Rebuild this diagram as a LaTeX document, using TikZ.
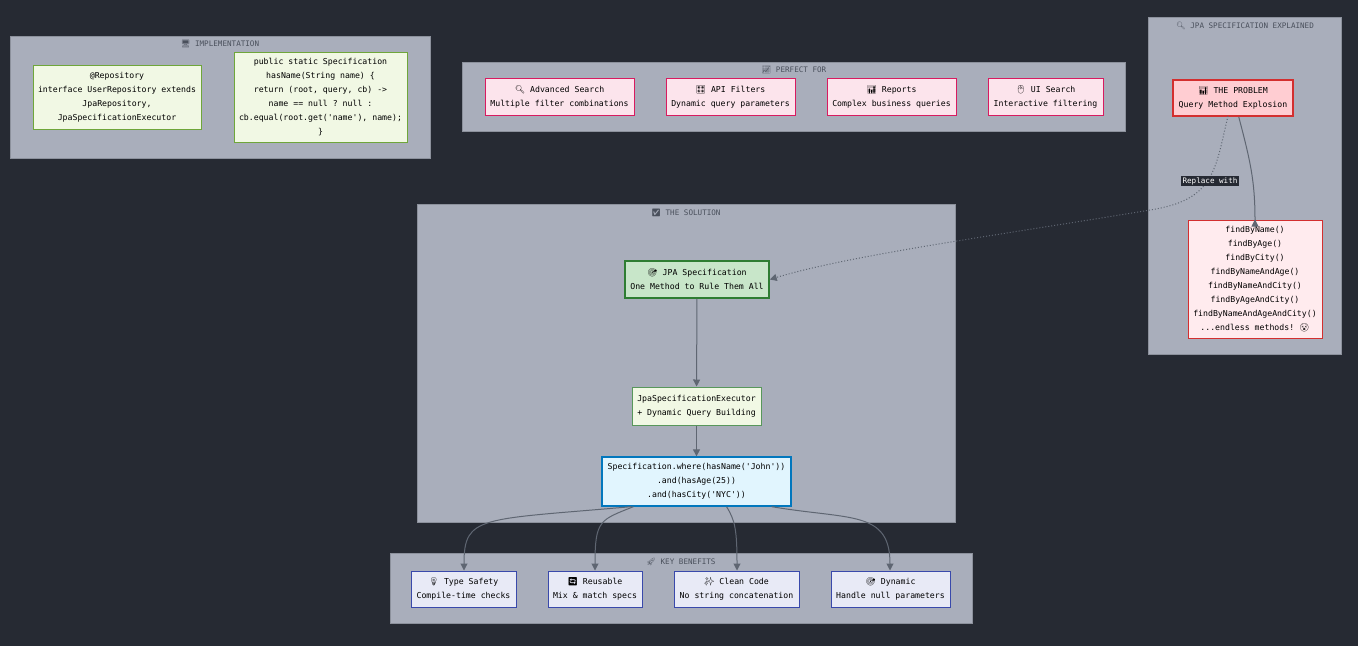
\documentclass[tikz,border=0pt]{standalone}
\usepackage{fontspec}
\setmonofont{DejaVu Sans Mono}
\newfontfamily\emo{Noto Emoji}
\usetikzlibrary{arrows.meta}
\definecolor{bg}{HTML}{262A33}
\definecolor{cl}{HTML}{A9AEBB}
\definecolor{clb}{HTML}{8C919C}
\definecolor{ttl}{HTML}{4A505C}
\definecolor{edge}{HTML}{5F6672}
\definecolor{gfill}{HTML}{F1F8E4}
\definecolor{gdraw}{HTML}{6FA63A}
\definecolor{pfill}{HTML}{FCE4EC}
\definecolor{pdraw}{HTML}{D81B60}
\definecolor{bfill}{HTML}{E8EAF6}
\definecolor{bdraw}{HTML}{3949AB}
\definecolor{sfill}{HTML}{C8E6C9}
\definecolor{sdraw}{HTML}{2E7D32}
\definecolor{wfill}{HTML}{E1F5FE}
\definecolor{wdraw}{HTML}{0277BD}
\definecolor{rfill}{HTML}{FFCDD2}
\definecolor{rdraw}{HTML}{D32F2F}
\definecolor{mfill}{HTML}{FFEBEE}
\tikzset{
 clus/.style={draw=clb,fill=cl,line width=0.8pt},
 ctitle/.style={font=\ttfamily\fontsize{7.6}{8}\selectfont,text=ttl,anchor=north},
 box/.style={draw,line width=1pt,align=center,font=\ttfamily\fontsize{8.2}{14}\selectfont,inner sep=0pt,text=black},
 gbox/.style={box,fill=gfill,draw=gdraw},
 pbox/.style={box,fill=pfill,draw=pdraw},
 bbox/.style={box,fill=bfill,draw=bdraw},
 arr/.style={draw=edge,line width=1pt,-{Triangle[length=7pt,width=7pt]}},
}
\newcommand{\bx}[6]{\node[#1,minimum width=#4-#2,minimum height=#5-#3] (#6) at ({(#2+#4)/2},{(#3+#5)/2})}
\begin{document}
\begin{tikzpicture}[x=1pt,y=-1pt]
\fill[bg] (0,0) rectangle (1358,646);
\useasboundingbox (0,0) rectangle (1358,646);
% clusters
\draw[clus] (10,36) rectangle (430,158);
\node[ctitle] at (220,37) {{\emo 🖥}\ IMPLEMENTATION};
\draw[clus] (462,62) rectangle (1125,131);
\node[ctitle] at (794,63) {{\emo 📈}\ PERFECT FOR};
\draw[clus] (1148,17) rectangle (1341,354);
\node[ctitle] at (1245,19) {{\emo 🔍}\ JPA SPECIFICATION EXPLAINED};
\draw[clus] (417,204) rectangle (955,522);
\node[ctitle] at (686,206) {{\emo ✅}\ THE SOLUTION};
\draw[clus] (390,553) rectangle (972,623);
\node[ctitle] at (681,555) {{\emo 🚀}\ KEY BENEFITS};
% implementation
\bx{gbox}{33}{65}{201}{129}{repo} {@Repository\\interface UserRepository extends\\JpaRepository,\\JpaSpecificationExecutor};
\bx{gbox}{234}{52}{407}{142}{code} {public static Specification\\hasName(String name) \{\\return (root, query, cb) ->\\name == null ? null :\\cb.equal(root.get('name'), name);\\\}};
% perfect for
\bx{pbox}{485}{78}{634}{115}{p1} {{\emo 🔍}\ Advanced Search\\Multiple filter combinations};
\bx{pbox}{666}{78}{795}{115}{p2} {{\emo 🎛}\ API Filters\\Dynamic query parameters};
\bx{pbox}{827}{78}{956}{115}{p3} {{\emo 📊}\ Reports\\Complex business queries};
\bx{pbox}{988}{78}{1103}{115}{p4} {{\emo 🖱}\ UI Search\\Interactive filtering};
% problem
\bx{box,fill=rfill,draw=rdraw,line width=1.4pt}{1173}{80}{1293}{116}{prob} {{\emo 📊}\ THE PROBLEM\\Query Method Explosion};
\bx{box,fill=mfill,draw=rdraw}{1188}{220}{1322}{338}{meth} {findByName()\\findByAge()\\findByCity()\\findByNameAndAge()\\findByNameAndCity()\\findByAgeAndCity()\\findByNameAndAgeAndCity()\\...endless methods! {\emo 😵}};
% solution
\bx{box,fill=sfill,draw=sdraw,line width=1.5pt}{625}{261}{769}{298}{jpa} {{\emo 🎯}\ JPA Specification\\One Method to Rule Them All};
\bx{box,fill=gfill,draw=sdraw!80}{632}{387}{761}{425}{exe} {JpaSpecificationExecutor\\+ Dynamic Query Building};
\bx{box,fill=wfill,draw=wdraw,line width=1.3pt}{602}{457}{791}{506}{where} {Specification.where(hasName('John'))\\.and(hasAge(25))\\.and(hasCity('NYC'))};
% benefits
\bx{bbox}{411}{571}{516}{607}{b1} {{\emo 💡}\ Type Safety\\Compile-time checks};
\bx{bbox}{548}{571}{642}{607}{b2} {{\emo 🔄}\ Reusable\\Mix \& match specs};
\bx{bbox}{674}{571}{799}{607}{b3} {{\emo ✨}\ Clean Code\\No string concatenation};
\bx{bbox}{831}{571}{950}{607}{b4} {{\emo 🎯}\ Dynamic\\Handle null parameters};
% edges
\draw[arr] (prob.south east) ++(-55,0) coordinate (ps) (ps) .. controls (1250,160) and (1255,180) .. (1255,220) -- (meth.north -| 1255,220);
\draw[draw=edge,line width=1pt,dotted,-{Triangle[length=7pt,width=7pt]}] (1228,116) .. controls (1215,170) and (1215,200) .. (1150,210) .. controls (1000,235) and (850,255) .. (jpa.east);
\node[fill=bg,text=white,font=\ttfamily\fontsize{7.6}{8}\selectfont,inner sep=1.5pt] (lbl) at (1210,181) {Replace with};
\draw[arr] (jpa) -- (exe);
\draw[arr] (exe) -- (where);
\draw[arr] (where.south west) ++(30,0) .. controls (480,520) and (464,515) .. (b1.north -| 464,571);
\draw[arr] (where.south) ++(-63,0) .. controls (600,520) and (595,520) .. (b2.north -| 595,571);
\draw[arr] (where.south) ++(30,0) .. controls (735,520) and (737,530) .. (b3.north -| 737,571);
\draw[arr] (where.south east) ++(-20,0) .. controls (850,520) and (890,510) .. (b4.north -| 890,571);
\end{tikzpicture}
\end{document}
